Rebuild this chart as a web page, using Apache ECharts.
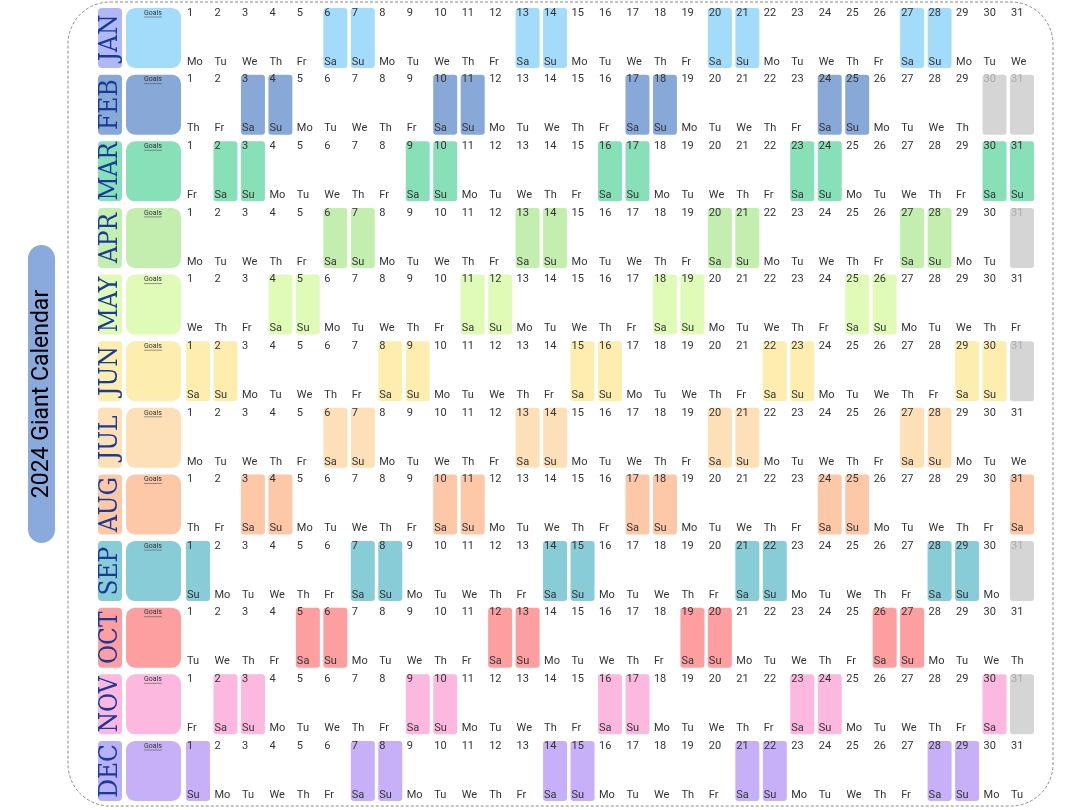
<!DOCTYPE html>
<html><head><meta charset="utf-8">
<script src="https://cdn.jsdelivr.net/npm/echarts@6/dist/echarts.min.js"></script>
<style>html,body{margin:0;padding:0;background:#fff}#c{width:1080px;height:810px}</style>
</head><body><div id="c"></div>
<script>
const title = "2024 Giant Calendar";
const months = ["JAN","FEB","MAR","APR","MAY","JUN","JUL","AUG","SEP","OCT","NOV","DEC"];
const daysInMonth = [31,29,31,30,31,30,31,31,30,31,30,31];
const firstWeekday = [0,3,4,0,2,5,0,3,6,1,4,6]; // 0 = Mo
const weekdayLabels = ["Mo","Tu","We","Th","Fr","Sa","Su"];
const monthColors = ["#a3dcfb","#88a8d8","#88e0b8","#c3eeb0","#e0fbb8","#fdeeb0","#fde0b8","#fdc8a8","#88ccd8","#fd9ea0","#fdb8e0","#c8b0f8"];
const labelColors = ["#b0b8f6","#88a8d8","#88e0b8","#c3eeb0","#e0fbb8","#fdeeb0","#fde0b8","#fdc8a8","#88ccd8","#fd9ea0","#fdb8e0","#b8b0f8"];
const greyColor = "#d5d5d5";

const cells = [];
for (let m = 0; m < 12; m++) for (let d = 1; d <= 31; d++) cells.push([d, m]);
const monthRows = months.map((n, i) => [1, i]);

const chart = echarts.init(document.getElementById('c'));
chart.setOption({
  animation: false,
  grid: {left: 186, right: 70, top: 38, bottom: 39},
  xAxis: {type: 'value', min: 1, max: 31, show: false},
  yAxis: {type: 'value', min: 0, max: 11, inverse: true, show: false},
  graphic: [
    {type: 'rect', shape: {x: 68, y: 2, width: 985, height: 804, r: 42},
     style: {fill: 'none', stroke: '#888', lineDash: [3, 2], lineWidth: 1}},
    {type: 'rect', shape: {x: 28, y: 245, width: 27, height: 298, r: 13.5},
     style: {fill: '#8aa9dc'}},
    {type: 'text', x: 42, y: 394, rotation: Math.PI / 2,
     style: {text: title, font: '23px Roboto', fill: '#000', align: 'center', verticalAlign: 'middle'}}
  ],
  series: [
    {
      type: 'custom', data: monthRows, clip: false,
      renderItem: (params, api) => {
        const m = api.value(1);
        const p = api.coord([1, m]);
        return {type: 'group', children: [
          {type: 'rect', shape: {x: p[0] - 88, y: p[1] - 30, width: 24, height: 60, r: 4}, style: {fill: labelColors[m]}},
          {type: 'text', x: p[0] - 76, y: p[1], rotation: Math.PI / 2,
           style: {text: months[m], font: '26px "DejaVu Serif Condensed", "DejaVu Serif"', fill: '#1a3a9a', align: 'center', verticalAlign: 'middle'}},
          {type: 'rect', shape: {x: p[0] - 60, y: p[1] - 30, width: 55, height: 60, r: 9}, style: {fill: monthColors[m]}},
          {type: 'text', x: p[0] - 33, y: p[1] - 25,
           style: {text: 'Goals', font: '7px Roboto', fill: '#333', align: 'center', verticalAlign: 'middle'}},
          {type: 'line', shape: {x1: p[0] - 42, y1: p[1] - 21, x2: p[0] - 24, y2: p[1] - 21}, style: {stroke: '#555', lineWidth: 0.6}}
        ]};
      }
    },
    {
      type: 'custom', data: cells, clip: false,
      renderItem: (params, api) => {
        const d = api.value(0), m = api.value(1);
        const p = api.coord([d, m]);
        const children = [];
        if (d > daysInMonth[m]) {
          children.push({type: 'rect', shape: {x: p[0], y: p[1] - 30, width: 24, height: 60, r: 3}, style: {fill: greyColor}});
          children.push({type: 'text', x: p[0] + 1, y: p[1] - 25, style: {text: String(d), font: '11px Roboto', fill: '#aaa', verticalAlign: 'middle'}});
          return {type: 'group', children};
        }
        const wd = (firstWeekday[m] + d - 1) % 7;
        if (wd >= 5) children.push({type: 'rect', shape: {x: p[0], y: p[1] - 30, width: 24, height: 60, r: 3}, style: {fill: monthColors[m]}});
        children.push({type: 'text', x: p[0] + 1, y: p[1] - 25, style: {text: String(d), font: '11px Roboto', fill: '#333', verticalAlign: 'middle'}});
        children.push({type: 'text', x: p[0] + 1, y: p[1] + 24, style: {text: weekdayLabels[wd], font: '11px Roboto', fill: '#333', verticalAlign: 'middle'}});
        return {type: 'group', children};
      }
    }
  ]
});
</script></body></html>
